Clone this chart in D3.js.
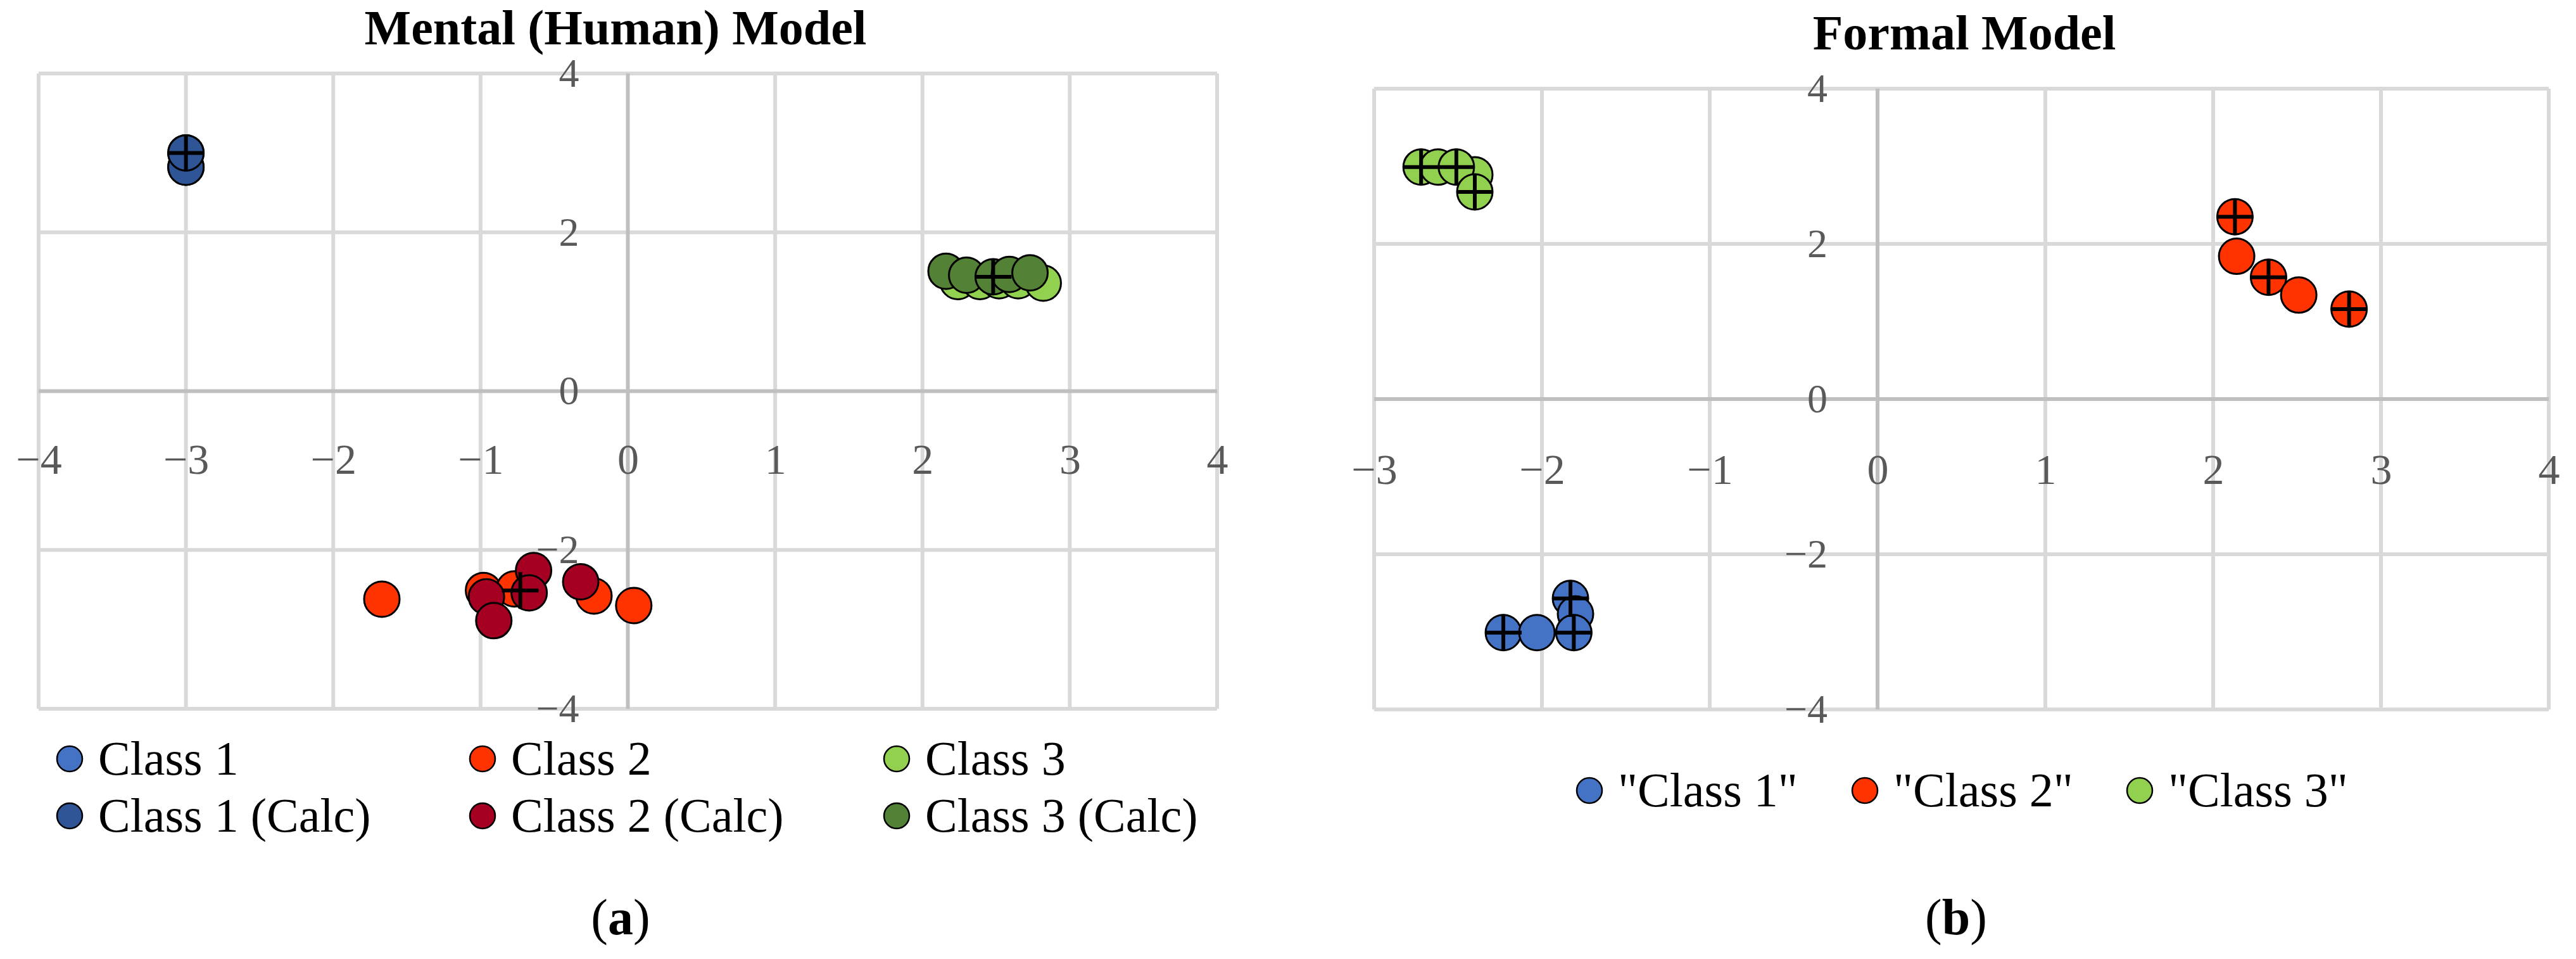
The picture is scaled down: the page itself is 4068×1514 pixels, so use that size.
<!DOCTYPE html>
<html>
<head>
<meta charset="utf-8">
<script src="https://cdn.jsdelivr.net/npm/d3@7"></script>
<style>
    body { margin: 0; background: #ffffff; }
    svg { display: block; }
    text { font-family: "Liberation Serif", "DejaVu Serif", serif; }
</style>
</head>
<body>
<svg id="chart" width="4068" height="1514"></svg>
<script>
// (a) Mental (Human) Model - [x, y] pairs
const mentalClass1 = [[-3, 3.0], [-3, 2.82]];
const mentalClass2 = [[-1.67, -2.62], [-0.98, -2.51], [-0.77, -2.49], [-0.23, -2.58], [0.04, -2.70]];
const mentalClass3 = [[2.24, 1.38], [2.39, 1.38], [2.52, 1.39], [2.65, 1.39], [2.82, 1.36]];
const mentalClass1Calc = [[-3, 2.82], [-3, 3.0]];
const mentalClass2Calc = [[-0.64, -2.26], [-0.96, -2.59], [-0.91, -2.89], [-0.67, -2.54], [-0.32, -2.40]];
const mentalClass3Calc = [[2.16, 1.51], [2.30, 1.46], [2.48, 1.44], [2.59, 1.47], [2.73, 1.49]];
const mentalCrosses = [[-3, 3.0], [-0.73, -2.51], [2.48, 1.44]];

// (b) Formal Model
const formalClass1 = [[-2.23, -3.01], [-2.03, -3.01], [-1.83, -2.57], [-1.80, -2.77], [-1.81, -3.01]];
const formalClass2 = [[2.13, 2.35], [2.14, 1.84], [2.33, 1.57], [2.51, 1.34], [2.81, 1.16]];
const formalClass3 = [[-2.72, 2.99], [-2.62, 2.99], [-2.40, 2.89], [-2.51, 2.99], [-2.40, 2.67]];
const formalCrosses = [[-2.72, 2.99], [-2.51, 2.99], [-2.40, 2.67], [2.13, 2.35], [2.33, 1.57], [2.81, 1.16],
    [-2.23, -3.01], [-1.81, -3.01], [-1.83, -2.57]];

const mentalLegend = ["Class 1", "Class 2", "Class 3", "Class 1 (Calc)", "Class 2 (Calc)", "Class 3 (Calc)"];
const formalLegend = ["\"Class 1\"", "\"Class 2\"", "\"Class 3\""];

const xTicksA = [-4, -3, -2, -1, 0, 1, 2, 3, 4];
const xTicksB = [-3, -2, -1, 0, 1, 2, 3, 4];
const yTicks = [-4, -2, 0, 2, 4];

const colors = {
    c1: "#4472C4", c2: "#FF3300", c3: "#92D050",
    c1calc: "#2F5597", c2calc: "#A50021", c3calc: "#538135"
};

const gridColor = "#D9D9D9";
const axisColor = "#BFBFBF";
const labelColor = "#595959";
const serif = "Liberation Serif";
const markerR = 28;

const svg = d3.select("#chart");

function drawPanel(cfg) {
    const x = d3.scaleLinear().domain(cfg.xDomain).range(cfg.xRange);
    const y = d3.scaleLinear().domain([-4, 4]).range(cfg.yRange);
    const g = svg.append("g");

    // gridlines (light) then the zero axes (darker)
    g.selectAll(".vgrid")
        .data(cfg.xTicks.filter(d => d !== 0))
        .enter().append("line")
        .attr("x1", d => x(d)).attr("x2", d => x(d))
        .attr("y1", y(4)).attr("y2", y(-4))
        .attr("stroke", gridColor).attr("stroke-width", 6);

    g.selectAll(".hgrid")
        .data(yTicks.filter(d => d !== 0))
        .enter().append("line")
        .attr("x1", x(cfg.xDomain[0])).attr("x2", x(cfg.xDomain[1]))
        .attr("y1", d => y(d)).attr("y2", d => y(d))
        .attr("stroke", gridColor).attr("stroke-width", 6);

    g.append("line")
        .attr("x1", x(0)).attr("x2", x(0))
        .attr("y1", y(4)).attr("y2", y(-4))
        .attr("stroke", axisColor).attr("stroke-width", 6);
    g.append("line")
        .attr("x1", x(cfg.xDomain[0])).attr("x2", x(cfg.xDomain[1]))
        .attr("y1", y(0)).attr("y2", y(0))
        .attr("stroke", axisColor).attr("stroke-width", 6);

    // tick labels
    const fmt = d3.format("d");
    const xAxis = g.append("g")
        .attr("transform", `translate(0,${y(0)})`)
        .call(d3.axisBottom(x).tickValues(cfg.xTicks).tickFormat(fmt).tickSize(0));
    xAxis.attr("font-family", serif);
    xAxis.select(".domain").remove();
    xAxis.selectAll("text")
        .attr("y", cfg.xLabelOffset).attr("dy", "0.35em")
        .attr("fill", labelColor)
        .attr("font-family", serif)
        .style("font-size", "68px");

    const yAxis = g.append("g")
        .attr("transform", `translate(${x(0)},0)`)
        .call(d3.axisLeft(y).tickValues(yTicks).tickFormat(fmt).tickSize(0).tickPadding(cfg.yLabelOffset));
    yAxis.attr("font-family", serif);
    yAxis.select(".domain").remove();
    yAxis.selectAll("text")
        .attr("dy", "0.32em")
        .attr("fill", labelColor)
        .attr("font-family", serif)
        .style("font-size", "64px");

    // series markers
    cfg.series.forEach(s => {
        g.selectAll(null)
            .data(s.data)
            .enter().append("circle")
            .attr("cx", d => x(d[0]))
            .attr("cy", d => y(d[1]))
            .attr("r", markerR)
            .attr("fill", s.color)
            .attr("stroke", "#000")
            .attr("stroke-width", 3);
    });

    // plus markers on top
    const cross = g.selectAll(".cross")
        .data(cfg.crosses)
        .enter().append("g")
        .attr("transform", d => `translate(${x(d[0])},${y(d[1])})`);
    cross.append("line")
        .attr("x1", -markerR - 1).attr("x2", markerR + 1)
        .attr("stroke", "#000").attr("stroke-width", 6);
    cross.append("line")
        .attr("y1", -markerR - 1).attr("y2", markerR + 1)
        .attr("stroke", "#000").attr("stroke-width", 6);

    // title
    svg.append("text")
        .attr("x", cfg.titleX).attr("y", cfg.titleY)
        .attr("text-anchor", "middle")
        .attr("font-weight", "bold")
        .attr("font-family", serif)
        .style("font-size", "78px")
        .text(cfg.title);

    // legend
    const leg = svg.selectAll(null)
        .data(cfg.legend)
        .enter().append("g")
        .attr("transform", d => `translate(${d.x},${d.y})`);
    leg.append("circle")
        .attr("r", 20)
        .attr("fill", d => d.color)
        .attr("stroke", "#000")
        .attr("stroke-width", 2.5);
    leg.append("text")
        .attr("x", 45).attr("dy", "0.33em")
        .attr("font-family", serif)
        .style("font-size", "76px")
        .text(d => d.label);

    // sub-figure label
    const sub = svg.append("text")
        .attr("x", cfg.subX).attr("y", 1475)
        .attr("text-anchor", "middle")
        .attr("font-family", serif)
        .style("font-size", "80px");
    sub.append("tspan").text("(");
    sub.append("tspan").attr("font-weight", "bold").text(cfg.sub);
    sub.append("tspan").text(")");
}

const colsA = [110, 762, 1416];
const rowsA = [1198, 1288];
const legendColorsA = [colors.c1, colors.c2, colors.c3, colors.c1calc, colors.c2calc, colors.c3calc];

drawPanel({
    title: "Mental (Human) Model",
    titleX: 972, titleY: 70,
    xDomain: [-4, 4], xRange: [61, 1922],
    yRange: [1119, 116],
    xTicks: xTicksA,
    xLabelOffset: 107, yLabelOffset: 77,
    series: [
        { data: mentalClass1, color: colors.c1 },
        { data: mentalClass2, color: colors.c2 },
        { data: mentalClass3, color: colors.c3 },
        { data: mentalClass1Calc, color: colors.c1calc },
        { data: mentalClass2Calc, color: colors.c2calc },
        { data: mentalClass3Calc, color: colors.c3calc }
    ],
    crosses: mentalCrosses,
    legend: mentalLegend.map((label, i) => ({
        label: label, color: legendColorsA[i], x: colsA[i % 3], y: rowsA[Math.floor(i / 3)]
    })),
    subX: 980, sub: "a"
});

const colsB = [2510, 2945, 3379];
const legendColorsB = [colors.c1, colors.c2, colors.c3];

drawPanel({
    title: "Formal Model",
    titleX: 3102, titleY: 78,
    xDomain: [-3, 4], xRange: [2170, 4025],
    yRange: [1120, 140],
    xTicks: xTicksB,
    xLabelOffset: 110, yLabelOffset: 79,
    series: [
        { data: formalClass1, color: colors.c1 },
        { data: formalClass2, color: colors.c2 },
        { data: formalClass3, color: colors.c3 }
    ],
    crosses: formalCrosses,
    legend: formalLegend.map((label, i) => ({
        label: label, color: legendColorsB[i], x: colsB[i], y: 1248
    })),
    subX: 3089, sub: "b"
});
</script>
</body>
</html>
